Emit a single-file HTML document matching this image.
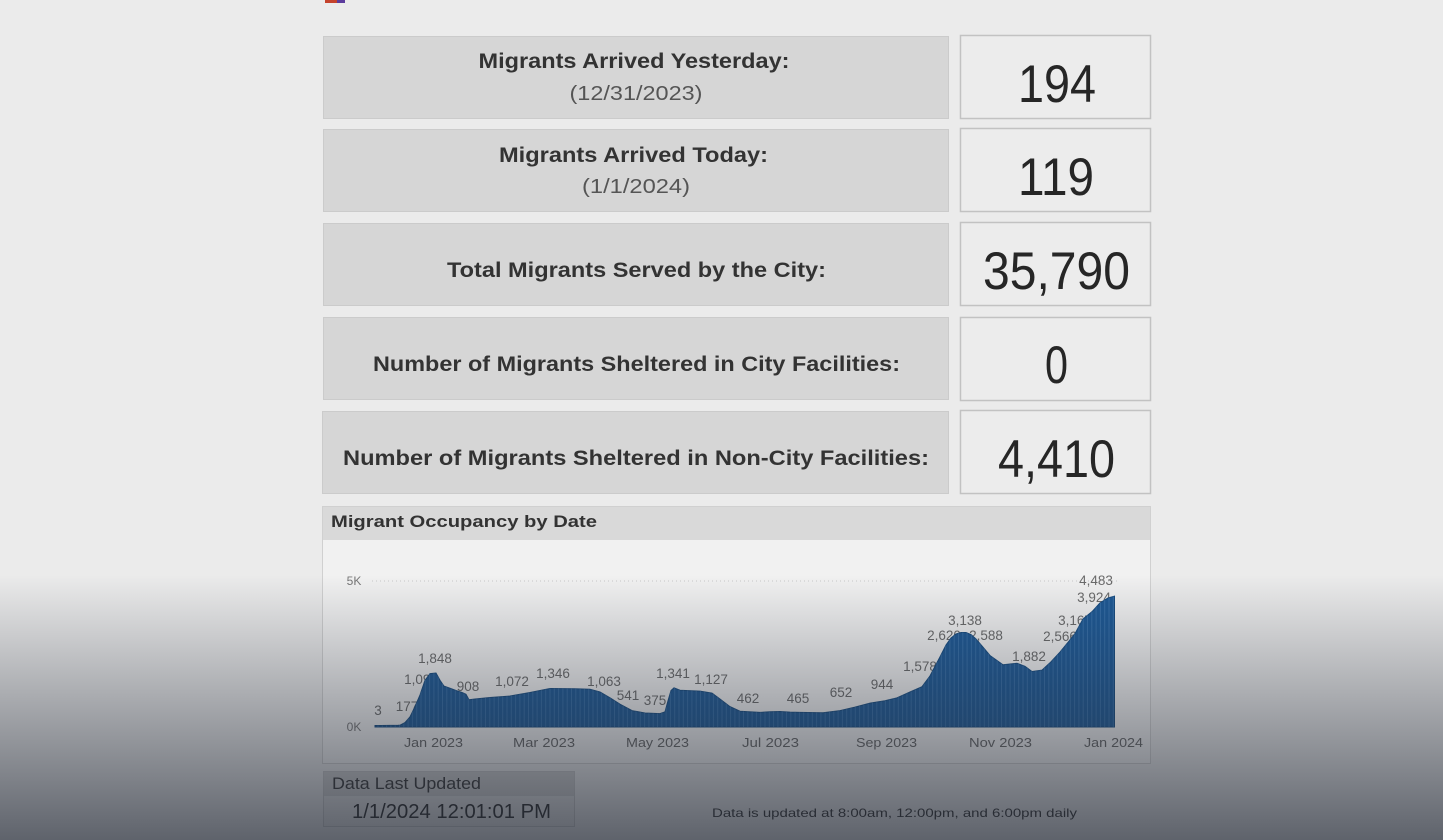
<!DOCTYPE html>
<html><head><meta charset="utf-8"><style>
html,body{margin:0;padding:0;background:#ebebeb;}
svg{display:block;}
text{font-family:"Liberation Sans",sans-serif;}
</style></head><body>
<svg width="1443" height="840" viewBox="0 0 1443 840" xmlns="http://www.w3.org/2000/svg">
<defs>
<linearGradient id="shade" gradientUnits="userSpaceOnUse" x1="0" y1="575" x2="0" y2="840">
<stop offset="0" stop-color="rgb(40,46,58)" stop-opacity="0"/>
<stop offset="0.45" stop-color="rgb(40,46,58)" stop-opacity="0.33"/>
<stop offset="1" stop-color="rgb(40,46,58)" stop-opacity="0.72"/>
</linearGradient>
</defs>
<rect x="0" y="0" width="1443" height="840" fill="#ebebeb"/>
<rect x="325" y="0" width="12" height="3" fill="#c4422c"/>
<rect x="337" y="0" width="8" height="3" fill="#5b3c9c"/>

<rect x="323.5" y="36.5" width="625" height="82" fill="#d6d6d6" stroke="#cbcbcb"/>
<text x="634" y="68" text-anchor="middle" font-size="21" font-weight="bold" fill="#333" textLength="311" lengthAdjust="spacingAndGlyphs">Migrants Arrived Yesterday:</text>
<text x="636" y="100" text-anchor="middle" font-size="20" fill="#555" textLength="133" lengthAdjust="spacingAndGlyphs">(12/31/2023)</text>
<rect x="960.5" y="35.5" width="190" height="83" fill="#ececec" stroke="#c2c2c2" stroke-width="1.5"/>
<text x="1057" y="102" text-anchor="middle" font-size="53" fill="#262626" textLength="78" lengthAdjust="spacingAndGlyphs">194</text>

<rect x="323.5" y="129.5" width="625" height="82" fill="#d6d6d6" stroke="#cbcbcb"/>
<text x="633.5" y="162" text-anchor="middle" font-size="21" font-weight="bold" fill="#333" textLength="269" lengthAdjust="spacingAndGlyphs">Migrants Arrived Today:</text>
<text x="636" y="193" text-anchor="middle" font-size="20" fill="#555" textLength="108" lengthAdjust="spacingAndGlyphs">(1/1/2024)</text>
<rect x="960.5" y="128.5" width="190" height="83" fill="#ececec" stroke="#c2c2c2" stroke-width="1.5"/>
<text x="1056" y="195" text-anchor="middle" font-size="53" fill="#262626" textLength="76" lengthAdjust="spacingAndGlyphs">119</text>

<rect x="323.5" y="223.5" width="625" height="82" fill="#d6d6d6" stroke="#cbcbcb"/>
<text x="636.5" y="277" text-anchor="middle" font-size="21" font-weight="bold" fill="#333" textLength="379" lengthAdjust="spacingAndGlyphs">Total Migrants Served by the City:</text>
<rect x="960.5" y="222.5" width="190" height="83" fill="#ececec" stroke="#c2c2c2" stroke-width="1.5"/>
<text x="1056.5" y="289" text-anchor="middle" font-size="53" fill="#262626" textLength="147" lengthAdjust="spacingAndGlyphs">35,790</text>

<rect x="323.5" y="317.5" width="625" height="82" fill="#d6d6d6" stroke="#cbcbcb"/>
<text x="636.5" y="371" text-anchor="middle" font-size="21" font-weight="bold" fill="#333" textLength="527" lengthAdjust="spacingAndGlyphs">Number of Migrants Sheltered in City Facilities:</text>
<rect x="960.5" y="317.5" width="190" height="83" fill="#ececec" stroke="#c2c2c2" stroke-width="1.5"/>
<text x="1056.5" y="383" text-anchor="middle" font-size="53" fill="#262626" textLength="23" lengthAdjust="spacingAndGlyphs">0</text>

<rect x="322.5" y="411.5" width="626" height="82" fill="#d6d6d6" stroke="#cbcbcb"/>
<text x="636" y="465" text-anchor="middle" font-size="21" font-weight="bold" fill="#333" textLength="586" lengthAdjust="spacingAndGlyphs">Number of Migrants Sheltered in Non-City Facilities:</text>
<rect x="960.5" y="410.5" width="190" height="83" fill="#ececec" stroke="#c2c2c2" stroke-width="1.5"/>
<text x="1056.5" y="477" text-anchor="middle" font-size="53" fill="#262626" textLength="117" lengthAdjust="spacingAndGlyphs">4,410</text>

<rect x="322.5" y="506.5" width="828" height="257" fill="#f1f1f1" stroke="#d0d0d0"/>
<rect x="323" y="507" width="827" height="33" fill="#d9d9d9"/>
<text x="331" y="527" font-size="17" font-weight="bold" fill="#333" textLength="266" lengthAdjust="spacingAndGlyphs">Migrant Occupancy by Date</text>

<line x1="372" y1="581" x2="1118" y2="581" stroke="#c8c8c8" stroke-width="1" stroke-dasharray="1 3"/>
<text x="354" y="585" text-anchor="middle" font-size="12" fill="#777">5K</text>
<text x="354" y="731" text-anchor="middle" font-size="12" fill="#777">0K</text>

<g font-size="13" fill="#666" text-anchor="middle">
<text x="433.5" y="747" textLength="59" lengthAdjust="spacingAndGlyphs">Jan 2023</text>
<text x="544" y="747" textLength="62" lengthAdjust="spacingAndGlyphs">Mar 2023</text>
<text x="657.5" y="747" textLength="63" lengthAdjust="spacingAndGlyphs">May 2023</text>
<text x="770.5" y="747" textLength="57" lengthAdjust="spacingAndGlyphs">Jul 2023</text>
<text x="886.5" y="747" textLength="61" lengthAdjust="spacingAndGlyphs">Sep 2023</text>
<text x="1000.5" y="747" textLength="63" lengthAdjust="spacingAndGlyphs">Nov 2023</text>
<text x="1113.5" y="747" textLength="59" lengthAdjust="spacingAndGlyphs">Jan 2024</text>
</g>

<g font-size="13.5" fill="#6a6a6a" text-anchor="middle">
<text x="378" y="715">3</text>
<text x="407" y="711">177</text>
<text x="421" y="684">1,098</text>
<text x="435" y="663">1,848</text>
<text x="468" y="691">908</text>
<text x="512" y="686">1,072</text>
<text x="553" y="678">1,346</text>
<text x="604" y="686">1,063</text>
<text x="628" y="700">541</text>
<text x="655" y="705">375</text>
<text x="673" y="678">1,341</text>
<text x="711" y="684">1,127</text>
<text x="748" y="703">462</text>
<text x="798" y="703">465</text>
<text x="841" y="697">652</text>
<text x="882" y="689">944</text>
<text x="920" y="671">1,578</text>
<text x="944" y="640">2,620</text>
<text x="965" y="625">3,138</text>
<text x="986" y="640">2,588</text>
<text x="1029" y="661">1,882</text>
<text x="1060" y="641">2,566</text>
<text x="1075" y="625">3,167</text>
<text x="1094" y="602">3,924</text>
<text x="1096" y="585">4,483</text>
</g>

<path id="area" fill="#1d5894" stroke="#164a7e" stroke-width="1" d="M375,727 L375,725.5 L398,725.3 L400,725.2 L405,722.6 L410,716.8 L415,706.6 L420,694.9 L425,680.3 L430,673.6 L436,673 L440,680.3 L444,686.1 L450,688.2 L456,690.5 L462,692.5 L466,694.3 L469,699.8 L475,699 L490,697.5 L510,696 L530,692.5 L550,688.5 L575,688.7 L590,689.3 L600,692 L610,697.8 L620,704.2 L632,710.6 L645,713 L660,713.6 L665,711.8 L668,700.7 L671,690.5 L674,687.8 L680,690.2 L700,691.1 L712,693.1 L720,699 L730,706.6 L740,711.2 L760,712.4 L770,711.8 L780,711.5 L790,712.1 L800,712.4 L823,712.7 L840,710.6 L855,707.1 L870,703.1 L885,700.7 L897,697.8 L910,692 L922,686.7 L930,675.9 L940,656.9 L946,645 L951,638 L956,634 L961,632.5 L966,632.5 L971,634.5 L976,639 L982,646 L990,655.5 L1003,664.8 L1017,663.3 L1025,666.3 L1032,671.5 L1042,670.1 L1050,662.8 L1060,652.1 L1068,642.3 L1075,633.6 L1083,619 L1092,611.7 L1100,602.9 L1108,597.9 L1114.5,596.1 L1114.5,727 Z"/>
<clipPath id="cl"><use href="#area"/></clipPath>
<g clip-path="url(#cl)" stroke="#3d74aa" stroke-width="1" opacity="0.8" id="stripes"></g>

<rect x="323.5" y="771.5" width="251" height="55" fill="#e4e4e4" stroke="#c8c8c8"/>
<rect x="324" y="772" width="250" height="24" fill="#cfcfcf"/>
<text x="332" y="789" font-size="17" fill="#333" textLength="149" lengthAdjust="spacingAndGlyphs">Data Last Updated</text>
<text x="451.5" y="818" text-anchor="middle" font-size="20" fill="#222" textLength="199" lengthAdjust="spacingAndGlyphs">1/1/2024 12:01:01 PM</text>

<text x="712" y="817" font-size="12" fill="#2a2a2a" textLength="365" lengthAdjust="spacingAndGlyphs">Data is updated at 8:00am, 12:00pm, and 6:00pm daily</text>

<rect x="0" y="0" width="1443" height="840" fill="url(#shade)"/>
</svg>
<script>
(function(){var g=document.getElementById('stripes');var ns='http://www.w3.org/2000/svg';for(var x=378;x<1115;x+=4.3){var l=document.createElementNS(ns,'line');l.setAttribute('x1',x.toFixed(1));l.setAttribute('x2',x.toFixed(1));l.setAttribute('y1','590');l.setAttribute('y2','727');g.appendChild(l);}})();
</script>
</body></html>
